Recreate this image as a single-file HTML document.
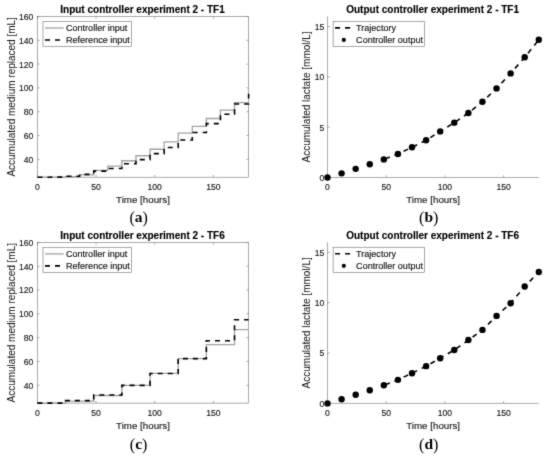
<!DOCTYPE html>
<html><head><meta charset="utf-8"><title>Figure</title>
<style>
html,body{margin:0;padding:0;background:#fff;}
svg{display:block;}
text{font-family:"Liberation Sans",sans-serif;fill:#1a1a1a;stroke:#1a1a1a;stroke-width:0.15px;}
.tk{font-size:8.6px;}
.lg{font-size:9.05px;fill:#111;}
.lb{font-size:9.75px;}
.yl{font-size:10px;stroke-width:0.05px;}
.ti{font-size:10px;font-weight:bold;fill:#000;}
.cap{stroke:none;font-family:"Liberation Serif",serif;font-size:15.5px;fill:#000;}
.par{font-size:16px;}
</style></head><body>
<svg width="550" height="459" viewBox="0 0 550 459">
<defs><filter id="soft" x="0" y="0" width="100%" height="100%" filterUnits="userSpaceOnUse" color-interpolation-filters="sRGB"><feConvolveMatrix order="3" kernelMatrix="1 4 1 4 30 4 1 4 1" divisor="50" edgeMode="duplicate" preserveAlpha="true"/></filter></defs>
<rect width="550" height="459" fill="#fff"/>
<g filter="url(#soft)">
<rect width="550" height="459" fill="#fff"/>
<rect x="37.40" y="16.50" width="211.20" height="160.70" stroke="#686868" stroke-width="0.55" fill="none"/>
<path d="M37.40 177.20v-2.2" stroke="#686868" stroke-width="0.55" fill="none"/>
<path d="M37.40 16.50v2.2" stroke="#686868" stroke-width="0.55" fill="none"/>
<text x="37.40" y="190.00" text-anchor="middle" class="tk">0</text>
<path d="M96.07 177.20v-2.2" stroke="#686868" stroke-width="0.55" fill="none"/>
<path d="M96.07 16.50v2.2" stroke="#686868" stroke-width="0.55" fill="none"/>
<text x="96.07" y="190.00" text-anchor="middle" class="tk">50</text>
<path d="M154.73 177.20v-2.2" stroke="#686868" stroke-width="0.55" fill="none"/>
<path d="M154.73 16.50v2.2" stroke="#686868" stroke-width="0.55" fill="none"/>
<text x="154.73" y="190.00" text-anchor="middle" class="tk">100</text>
<path d="M213.40 177.20v-2.2" stroke="#686868" stroke-width="0.55" fill="none"/>
<path d="M213.40 16.50v2.2" stroke="#686868" stroke-width="0.55" fill="none"/>
<text x="213.40" y="190.00" text-anchor="middle" class="tk">150</text>
<path d="M37.40 159.34h2.2" stroke="#686868" stroke-width="0.55" fill="none"/>
<path d="M248.60 159.34h-2.2" stroke="#686868" stroke-width="0.55" fill="none"/>
<text x="33.30" y="162.74" text-anchor="end" class="tk">40</text>
<path d="M37.40 135.54h2.2" stroke="#686868" stroke-width="0.55" fill="none"/>
<path d="M248.60 135.54h-2.2" stroke="#686868" stroke-width="0.55" fill="none"/>
<text x="33.30" y="138.94" text-anchor="end" class="tk">60</text>
<path d="M37.40 111.73h2.2" stroke="#686868" stroke-width="0.55" fill="none"/>
<path d="M248.60 111.73h-2.2" stroke="#686868" stroke-width="0.55" fill="none"/>
<text x="33.30" y="115.13" text-anchor="end" class="tk">80</text>
<path d="M37.40 87.92h2.2" stroke="#686868" stroke-width="0.55" fill="none"/>
<path d="M248.60 87.92h-2.2" stroke="#686868" stroke-width="0.55" fill="none"/>
<text x="33.30" y="91.32" text-anchor="end" class="tk">100</text>
<path d="M37.40 64.11h2.2" stroke="#686868" stroke-width="0.55" fill="none"/>
<path d="M248.60 64.11h-2.2" stroke="#686868" stroke-width="0.55" fill="none"/>
<text x="33.30" y="67.51" text-anchor="end" class="tk">120</text>
<path d="M37.40 40.31h2.2" stroke="#686868" stroke-width="0.55" fill="none"/>
<path d="M248.60 40.31h-2.2" stroke="#686868" stroke-width="0.55" fill="none"/>
<text x="33.30" y="43.71" text-anchor="end" class="tk">140</text>
<path d="M37.40 16.50h2.2" stroke="#686868" stroke-width="0.55" fill="none"/>
<path d="M248.60 16.50h-2.2" stroke="#686868" stroke-width="0.55" fill="none"/>
<text x="33.30" y="19.90" text-anchor="end" class="tk">160</text>
<path d="M37.40 177.20H51.48V177.20H65.56V176.72H79.64V174.82H93.72V170.30H107.80V166.13H121.88V160.77H135.96V155.77H150.04V149.23H164.12V141.91H178.20V133.16H192.28V126.37H206.36V118.51H220.44V110.06H234.52V102.68H248.60" stroke="#a2a2a2" stroke-width="1.3" fill="none"/>
<path d="M37.40 177.20H51.48V177.08H65.56V176.25H79.64V174.34H93.72V171.13H107.80V168.51H121.88V163.75H135.96V159.58H150.04V153.63H164.12V147.56H178.20V140.06H192.28V132.44H206.36V123.63H220.44V114.23H234.52V103.99H248.60V93.87" stroke="#000" stroke-width="1.6" stroke-dasharray="5 5" fill="none"/>
<rect x="43.00" y="21.40" width="88.5" height="25.3" fill="#fff" stroke="#555" stroke-width="0.5"/>
<path d="M45.00 28.00h18.7" stroke="#a2a2a2" stroke-width="1.3"/>
<path d="M45.00 40.00h18.7" stroke="#000" stroke-width="1.6" stroke-dasharray="5 5"/>
<text x="66.00" y="31.30" class="lg">Controller input</text>
<text x="66.00" y="43.30" class="lg">Reference input</text>
<text x="142.50" y="12.80" text-anchor="middle" class="ti">Input controller experiment 2 - TF1</text>
<text x="143.00" y="203.10" text-anchor="middle" class="lb">Time [hours]</text>
<text transform="translate(14.50 96.85) rotate(-90)" text-anchor="middle" class="lb yl">Accumulated medium replaced [mL]</text>
<text x="138.60" y="222.20" text-anchor="middle" class="cap"><tspan class="par" dy="0.6">(</tspan><tspan font-weight="bold" dy="-0.6">a</tspan><tspan class="par" dy="0.6">)</tspan></text>
<path d="M327.50 16.40V177.50H538.80" stroke="#686868" stroke-width="0.55" fill="none"/>
<path d="M327.50 177.50v-2.2" stroke="#686868" stroke-width="0.55" fill="none"/>
<text x="327.50" y="190.30" text-anchor="middle" class="tk">0</text>
<path d="M386.19 177.50v-2.2" stroke="#686868" stroke-width="0.55" fill="none"/>
<text x="386.19" y="190.30" text-anchor="middle" class="tk">50</text>
<path d="M444.89 177.50v-2.2" stroke="#686868" stroke-width="0.55" fill="none"/>
<text x="444.89" y="190.30" text-anchor="middle" class="tk">100</text>
<path d="M503.58 177.50v-2.2" stroke="#686868" stroke-width="0.55" fill="none"/>
<text x="503.58" y="190.30" text-anchor="middle" class="tk">150</text>
<path d="M327.50 177.50h2.2" stroke="#686868" stroke-width="0.55" fill="none"/>
<text x="324.40" y="180.90" text-anchor="end" class="tk">0</text>
<path d="M327.50 127.16h2.2" stroke="#686868" stroke-width="0.55" fill="none"/>
<text x="324.40" y="130.56" text-anchor="end" class="tk">5</text>
<path d="M327.50 76.81h2.2" stroke="#686868" stroke-width="0.55" fill="none"/>
<text x="324.40" y="80.21" text-anchor="end" class="tk">10</text>
<path d="M327.50 26.47h2.2" stroke="#686868" stroke-width="0.55" fill="none"/>
<text x="324.40" y="29.87" text-anchor="end" class="tk">15</text>
<path d="M383.85 159.38L397.93 153.94L412.02 147.29L426.11 140.25L440.19 131.39L454.28 122.63L468.37 113.06L482.45 101.68L496.54 88.39L510.63 73.39L524.71 57.28L538.80 39.76" stroke="#000" stroke-width="1.6" stroke-dasharray="5 5" stroke-dashoffset="8.6" fill="none"/>
<circle cx="327.50" cy="177.50" r="3.2" fill="#000"/>
<circle cx="341.59" cy="173.37" r="3.2" fill="#000"/>
<circle cx="355.67" cy="168.84" r="3.2" fill="#000"/>
<circle cx="369.76" cy="164.31" r="3.2" fill="#000"/>
<circle cx="383.85" cy="159.38" r="3.2" fill="#000"/>
<circle cx="397.93" cy="153.94" r="3.2" fill="#000"/>
<circle cx="412.02" cy="147.29" r="3.2" fill="#000"/>
<circle cx="426.11" cy="140.25" r="3.2" fill="#000"/>
<circle cx="440.19" cy="131.39" r="3.2" fill="#000"/>
<circle cx="454.28" cy="122.63" r="3.2" fill="#000"/>
<circle cx="468.37" cy="113.06" r="3.2" fill="#000"/>
<circle cx="482.45" cy="101.68" r="3.2" fill="#000"/>
<circle cx="496.54" cy="88.39" r="3.2" fill="#000"/>
<circle cx="510.63" cy="73.39" r="3.2" fill="#000"/>
<circle cx="524.71" cy="57.28" r="3.2" fill="#000"/>
<circle cx="538.80" cy="39.76" r="3.2" fill="#000"/>
<rect x="333.10" y="21.30" width="91.2" height="25.3" fill="#fff" stroke="#555" stroke-width="0.5"/>
<path d="M335.10 27.90h18.7" stroke="#000" stroke-width="1.6" stroke-dasharray="5 5"/>
<circle cx="343.80" cy="39.90" r="2.1" fill="#000"/>
<text x="356.10" y="31.20" class="lg">Trajectory</text>
<text x="356.10" y="43.20" class="lg">Controller output</text>
<text x="432.65" y="12.70" text-anchor="middle" class="ti">Output controller experiment 2 - TF1</text>
<text x="433.15" y="203.40" text-anchor="middle" class="lb">Time [hours]</text>
<text transform="translate(310.20 96.95) rotate(-90)" text-anchor="middle" class="lb yl">Accumulated lactate [mmol/L]</text>
<text x="428.75" y="222.20" text-anchor="middle" class="cap"><tspan class="par" dy="0.6">(</tspan><tspan font-weight="bold" dy="-0.6">b</tspan><tspan class="par" dy="0.6">)</tspan></text>
<rect x="37.40" y="242.40" width="211.20" height="160.70" stroke="#686868" stroke-width="0.55" fill="none"/>
<path d="M37.40 403.10v-2.2" stroke="#686868" stroke-width="0.55" fill="none"/>
<path d="M37.40 242.40v2.2" stroke="#686868" stroke-width="0.55" fill="none"/>
<text x="37.40" y="415.90" text-anchor="middle" class="tk">0</text>
<path d="M96.07 403.10v-2.2" stroke="#686868" stroke-width="0.55" fill="none"/>
<path d="M96.07 242.40v2.2" stroke="#686868" stroke-width="0.55" fill="none"/>
<text x="96.07" y="415.90" text-anchor="middle" class="tk">50</text>
<path d="M154.73 403.10v-2.2" stroke="#686868" stroke-width="0.55" fill="none"/>
<path d="M154.73 242.40v2.2" stroke="#686868" stroke-width="0.55" fill="none"/>
<text x="154.73" y="415.90" text-anchor="middle" class="tk">100</text>
<path d="M213.40 403.10v-2.2" stroke="#686868" stroke-width="0.55" fill="none"/>
<path d="M213.40 242.40v2.2" stroke="#686868" stroke-width="0.55" fill="none"/>
<text x="213.40" y="415.90" text-anchor="middle" class="tk">150</text>
<path d="M37.40 385.24h2.2" stroke="#686868" stroke-width="0.55" fill="none"/>
<path d="M248.60 385.24h-2.2" stroke="#686868" stroke-width="0.55" fill="none"/>
<text x="33.30" y="388.64" text-anchor="end" class="tk">40</text>
<path d="M37.40 361.44h2.2" stroke="#686868" stroke-width="0.55" fill="none"/>
<path d="M248.60 361.44h-2.2" stroke="#686868" stroke-width="0.55" fill="none"/>
<text x="33.30" y="364.84" text-anchor="end" class="tk">60</text>
<path d="M37.40 337.63h2.2" stroke="#686868" stroke-width="0.55" fill="none"/>
<path d="M248.60 337.63h-2.2" stroke="#686868" stroke-width="0.55" fill="none"/>
<text x="33.30" y="341.03" text-anchor="end" class="tk">80</text>
<path d="M37.40 313.82h2.2" stroke="#686868" stroke-width="0.55" fill="none"/>
<path d="M248.60 313.82h-2.2" stroke="#686868" stroke-width="0.55" fill="none"/>
<text x="33.30" y="317.22" text-anchor="end" class="tk">100</text>
<path d="M37.40 290.01h2.2" stroke="#686868" stroke-width="0.55" fill="none"/>
<path d="M248.60 290.01h-2.2" stroke="#686868" stroke-width="0.55" fill="none"/>
<text x="33.30" y="293.41" text-anchor="end" class="tk">120</text>
<path d="M37.40 266.21h2.2" stroke="#686868" stroke-width="0.55" fill="none"/>
<path d="M248.60 266.21h-2.2" stroke="#686868" stroke-width="0.55" fill="none"/>
<text x="33.30" y="269.61" text-anchor="end" class="tk">140</text>
<path d="M37.40 242.40h2.2" stroke="#686868" stroke-width="0.55" fill="none"/>
<path d="M248.60 242.40h-2.2" stroke="#686868" stroke-width="0.55" fill="none"/>
<text x="33.30" y="245.80" text-anchor="end" class="tk">160</text>
<path d="M37.40 403.10H65.56V401.08H93.72V395.48H121.88V385.36H150.04V373.46H178.20V358.58H206.36V344.53H234.52V329.65H248.60" stroke="#a2a2a2" stroke-width="1.3" fill="none"/>
<path d="M37.40 403.10H65.56V400.60H93.72V395.01H121.88V385.36H150.04V373.46H178.20V358.58H206.36V340.72H234.52V319.77H248.60" stroke="#000" stroke-width="1.6" stroke-dasharray="5 5" fill="none"/>
<rect x="43.00" y="247.30" width="88.5" height="25.3" fill="#fff" stroke="#555" stroke-width="0.5"/>
<path d="M45.00 253.90h18.7" stroke="#a2a2a2" stroke-width="1.3"/>
<path d="M45.00 265.90h18.7" stroke="#000" stroke-width="1.6" stroke-dasharray="5 5"/>
<text x="66.00" y="257.20" class="lg">Controller input</text>
<text x="66.00" y="269.20" class="lg">Reference input</text>
<text x="142.50" y="238.70" text-anchor="middle" class="ti">Input controller experiment 2 - TF6</text>
<text x="143.00" y="429.00" text-anchor="middle" class="lb">Time [hours]</text>
<text transform="translate(14.50 322.75) rotate(-90)" text-anchor="middle" class="lb yl">Accumulated medium replaced [mL]</text>
<text x="138.60" y="449.00" text-anchor="middle" class="cap"><tspan class="par" dy="0.6">(</tspan><tspan font-weight="bold" dy="-0.6">c</tspan><tspan class="par" dy="0.6">)</tspan></text>
<path d="M327.50 242.30V403.40H538.80" stroke="#686868" stroke-width="0.55" fill="none"/>
<path d="M327.50 403.40v-2.2" stroke="#686868" stroke-width="0.55" fill="none"/>
<text x="327.50" y="416.20" text-anchor="middle" class="tk">0</text>
<path d="M386.19 403.40v-2.2" stroke="#686868" stroke-width="0.55" fill="none"/>
<text x="386.19" y="416.20" text-anchor="middle" class="tk">50</text>
<path d="M444.89 403.40v-2.2" stroke="#686868" stroke-width="0.55" fill="none"/>
<text x="444.89" y="416.20" text-anchor="middle" class="tk">100</text>
<path d="M503.58 403.40v-2.2" stroke="#686868" stroke-width="0.55" fill="none"/>
<text x="503.58" y="416.20" text-anchor="middle" class="tk">150</text>
<path d="M327.50 403.40h2.2" stroke="#686868" stroke-width="0.55" fill="none"/>
<text x="324.40" y="406.80" text-anchor="end" class="tk">0</text>
<path d="M327.50 353.06h2.2" stroke="#686868" stroke-width="0.55" fill="none"/>
<text x="324.40" y="356.46" text-anchor="end" class="tk">5</text>
<path d="M327.50 302.71h2.2" stroke="#686868" stroke-width="0.55" fill="none"/>
<text x="324.40" y="306.11" text-anchor="end" class="tk">10</text>
<path d="M327.50 252.37h2.2" stroke="#686868" stroke-width="0.55" fill="none"/>
<text x="324.40" y="255.77" text-anchor="end" class="tk">15</text>
<path d="M383.85 385.28L397.93 379.84L412.02 373.19L426.11 366.15L440.19 358.19L454.28 350.04L468.37 340.07L482.45 329.90L496.54 315.90L510.63 303.22L524.71 286.50L538.80 272.00" stroke="#000" stroke-width="1.6" stroke-dasharray="5 5" stroke-dashoffset="8.6" fill="none"/>
<circle cx="327.50" cy="403.40" r="3.2" fill="#000"/>
<circle cx="341.59" cy="399.27" r="3.2" fill="#000"/>
<circle cx="355.67" cy="394.74" r="3.2" fill="#000"/>
<circle cx="369.76" cy="390.21" r="3.2" fill="#000"/>
<circle cx="383.85" cy="385.28" r="3.2" fill="#000"/>
<circle cx="397.93" cy="379.84" r="3.2" fill="#000"/>
<circle cx="412.02" cy="373.19" r="3.2" fill="#000"/>
<circle cx="426.11" cy="366.15" r="3.2" fill="#000"/>
<circle cx="440.19" cy="358.19" r="3.2" fill="#000"/>
<circle cx="454.28" cy="350.04" r="3.2" fill="#000"/>
<circle cx="468.37" cy="340.07" r="3.2" fill="#000"/>
<circle cx="482.45" cy="329.90" r="3.2" fill="#000"/>
<circle cx="496.54" cy="315.90" r="3.2" fill="#000"/>
<circle cx="510.63" cy="303.22" r="3.2" fill="#000"/>
<circle cx="524.71" cy="286.50" r="3.2" fill="#000"/>
<circle cx="538.80" cy="272.00" r="3.2" fill="#000"/>
<rect x="333.10" y="247.20" width="91.2" height="25.3" fill="#fff" stroke="#555" stroke-width="0.5"/>
<path d="M335.10 253.80h18.7" stroke="#000" stroke-width="1.6" stroke-dasharray="5 5"/>
<circle cx="343.80" cy="265.80" r="2.1" fill="#000"/>
<text x="356.10" y="257.10" class="lg">Trajectory</text>
<text x="356.10" y="269.10" class="lg">Controller output</text>
<text x="432.65" y="238.60" text-anchor="middle" class="ti">Output controller experiment 2 - TF6</text>
<text x="433.15" y="429.30" text-anchor="middle" class="lb">Time [hours]</text>
<text transform="translate(310.20 322.85) rotate(-90)" text-anchor="middle" class="lb yl">Accumulated lactate [mmol/L]</text>
<text x="428.75" y="449.00" text-anchor="middle" class="cap"><tspan class="par" dy="0.6">(</tspan><tspan font-weight="bold" dy="-0.6">d</tspan><tspan class="par" dy="0.6">)</tspan></text>
</g>
</svg>
</body></html>
